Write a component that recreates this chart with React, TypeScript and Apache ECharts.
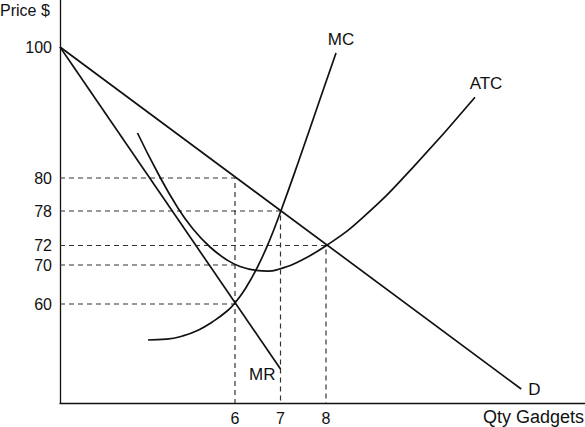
import React, { useEffect, useRef } from "react";
import * as echarts from "echarts";

// price ticks: label and the height at which the sketch puts them (not to scale)
const priceLabels = ["100", "80", "78", "72", "70", "60"];
const priceHeights = [356, 225, 192, 157.5, 138, 99];
const qtyTicks = [6, 7, 8];

// dashed guides: price level, quantity where they stop, drop to the axis?
const guidePrice = ["80", "78", "72", "70", "60"];
const guideQty = [6, 7, 8, 6, 6];
const guideDrop = [true, true, true, false, false];

const xMin = 2.154;
const xMax = 13.692;
const yMax = 403;

// curves as [qty, height]
const demand = [
  [2.154, 356],
  [12.29, 14],
];
const marginalRevenue = [
  [2.154, 356],
  [7, 34],
];
const marginalCost = [
  [4.088, 63],
  [4.5, 63.8],
  [4.85, 67],
  [5.2, 73],
  [5.5, 81],
  [5.8, 91],
  [6.0, 100],
  [6.25, 116],
  [6.5, 136.5],
  [6.75, 161.5],
  [7.0, 191],
  [7.4, 242],
  [7.9, 308],
  [8.22, 350],
];
const averageTotalCost = [
  [3.857, 270],
  [4.286, 231.5],
  [4.725, 196.5],
  [5.077, 174],
  [5.451, 156],
  [5.824, 143],
  [6.11, 136.5],
  [6.462, 132.6],
  [6.725, 131.8],
  [6.989, 134.2],
  [7.363, 140.6],
  [8.0, 157.2],
  [8.813, 185.7],
  [9.912, 235.7],
  [11.275, 305.7],
];

const FONT = "Liberation Sans, Arial, Helvetica, sans-serif";
const INK = "#111";

export default function App() {
  const chartRef = useRef<HTMLDivElement>(null);

  useEffect(() => {
    if (!chartRef.current) return;
    const chart = echarts.init(chartRef.current, undefined, { renderer: "svg" });

    const heightOf = (label: string) => priceHeights[priceLabels.indexOf(label)];

    const guides = guidePrice.map((p, i) => {
      const h = heightOf(p);
      const pts: number[][] = [
        [xMin, h],
        [guideQty[i], h],
      ];
      if (guideDrop[i]) pts.push([guideQty[i], 0]);
      return {
        type: "line",
        data: pts,
        symbol: "none",
        silent: true,
        lineStyle: { color: "#333", width: 1.2, type: [5, 4] },
        z: 1,
      };
    });

    const curve = (name: string, data: number[][], smooth: number | false, label: any) => ({
      type: "line",
      name,
      smooth,
      showSymbol: true,
      symbolSize: 0,
      silent: true,
      lineStyle: { color: INK, width: 1.7 },
      itemStyle: { color: INK },
      data: data.map((d, i) =>
        i === data.length - 1
          ? {
              value: d,
              label: {
                show: true,
                formatter: name,
                color: INK,
                fontFamily: FONT,
                fontSize: 17,
                ...label,
              },
            }
          : d
      ),
      z: 3,
    });

    chart.setOption({
      animation: false,
      grid: { left: 60, top: 0, right: 0, bottom: 24 },
      xAxis: {
        type: "value",
        min: xMin,
        max: xMax,
        splitLine: { show: false },
        axisTick: { show: false },
        axisLine: { lineStyle: { color: INK, width: 1.3 } },
        axisLabel: {
          customValues: qtyTicks,
          color: INK,
          fontFamily: FONT,
          fontSize: 16,
          margin: 7,
        },
      },
      yAxis: {
        type: "value",
        min: 0,
        max: yMax,
        splitLine: { show: false },
        axisTick: { show: false },
        axisLine: { show: true, lineStyle: { color: INK, width: 1.3 } },
        axisLabel: {
          customValues: priceHeights,
          formatter: (v: number) => priceLabels[priceHeights.indexOf(v)] ?? "",
          color: INK,
          fontFamily: FONT,
          fontSize: 16,
          margin: 8,
        },
      },
      graphic: [
        {
          type: "text",
          left: 0,
          top: 2,
          style: { text: "Price $", fill: INK, font: `16px ${FONT}` },
        },
        {
          type: "text",
          right: 1,
          top: 408,
          style: { text: "Qty Gadgets", fill: INK, font: `18px ${FONT}` },
        },
      ],
      series: [
        ...guides,
        curve("D", demand, false, { position: "right", distance: 7 }),
        curve("MR", marginalRevenue, false, { position: "left", distance: 5, offset: [0, 5] }),
        curve("MC", marginalCost, 0.5, { position: "top", distance: 5, offset: [5, 0] }),
        curve("ATC", averageTotalCost, 0.5, { position: "top", distance: 5, offset: [11, 0] }),
      ],
    });

    return () => {
      chart.dispose();
    };
  }, []);

  return (
    <div
      ref={chartRef}
      style={{ position: "fixed", left: 0, top: 0, width: "585px", height: "427px", background: "#fff" }}
    />
  );
}
